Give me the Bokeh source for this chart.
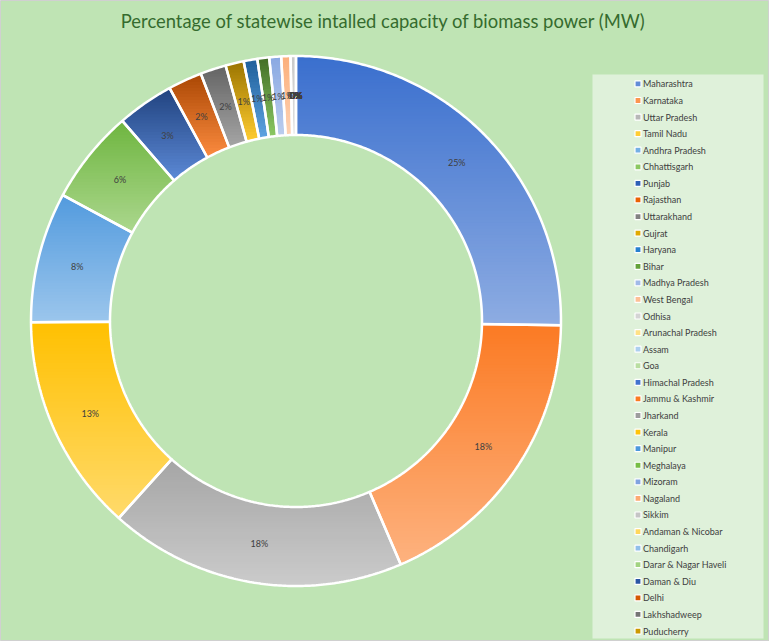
import math
import colorsys

from bokeh.plotting import figure
from bokeh.models import Range1d, ColumnDataSource, Label, BoxAnnotation
from bokeh.core.properties import value
from bokeh.embed import file_html
from bokeh.resources import INLINE

# ---------------------------------------------------------------- data
states = [
    "Maharashtra", "Karnataka", "Uttar Pradesh", "Tamil Nadu", "Andhra Pradesh",
    "Chhattisgarh", "Punjab", "Rajasthan", "Uttarakhand", "Gujrat", "Haryana",
    "Bihar", "Madhya Pradesh", "West Bengal", "Odhisa", "Arunachal Pradesh",
    "Assam", "Goa", "Himachal Pradesh", "Jammu & Kashmir", "Jharkand", "Kerala",
    "Manipur", "Meghalaya", "Mizoram", "Nagaland", "Sikkim", "Andaman & Nicobar",
    "Chandigarh", "Darar & Nagar Haveli", "Daman & Diu", "Delhi", "Lakhshadweep",
    "Puducherry",
]
capacity_mw = [
    2065, 1494, 1482, 1085, 650,
    470, 283, 169, 128, 91, 68,
    59, 59, 46, 27, 0,
    0, 0, 0, 0, 0, 0,
    0, 0, 0, 0, 0, 0,
    0, 0, 0, 0, 0,
    0,
]
chart_title = "Percentage of statewise intalled capacity of biomass power (MW)"

# ---------------------------------------------------------------- styling
BG = "#BFE4B4"
LEGEND_BG = "#DFF1DA"
TEXT = "#404040"
FONT = "Lato"
R_OUT, R_IN = 265.0, 186.0
R_LABEL = (R_OUT + R_IN) / 2
ACCENTS = ["#4472C4", "#ED7D31", "#A5A5A5", "#FFC000", "#5B9BD5", "#70AD47"]
# luminance modifiers used for the 2nd, 3rd ... round of accent colours
LUM_STEPS = [(1.0, 0.0), (0.6, 0.0), (0.6, 0.4), (0.8, 0.0), (0.8, 0.2), (0.5, 0.0)]


def hex_to_rgb(h):
    h = h.lstrip("#")
    return tuple(int(h[i:i + 2], 16) / 255 for i in (0, 2, 4))


def rgb_to_hex(rgb):
    return "#%02X%02X%02X" % tuple(max(0, min(255, int(round(c * 255)))) for c in rgb)


def series_color(i):
    base = ACCENTS[i % 6]
    mod, off = LUM_STEPS[(i // 6) % len(LUM_STEPS)]
    h, l, s = colorsys.rgb_to_hls(*hex_to_rgb(base))
    return rgb_to_hex(colorsys.hls_to_rgb(h, min(1, l * mod + off), s))


def tint(color, amount, sat=1.15):
    h, l, s = colorsys.rgb_to_hls(*hex_to_rgb(color))
    return rgb_to_hex(colorsys.hls_to_rgb(h, l + (1 - l) * amount, min(1.0, s * sat)))


def lerp_color(c0, c1, t):
    a, b = hex_to_rgb(c0), hex_to_rgb(c1)
    return rgb_to_hex(tuple(x + (y - x) * t for x, y in zip(a, b)))


def ring_polygon(t0, t1):
    """Annular sector between clockwise-from-top angles t0..t1 (degrees)."""
    n = max(3, int(math.ceil((t1 - t0) * 2)) + 1)
    outer = [(R_OUT * math.sin(math.radians(t0 + (t1 - t0) * k / (n - 1))),
              R_OUT * math.cos(math.radians(t0 + (t1 - t0) * k / (n - 1)))) for k in range(n)]
    inner = [(R_IN * math.sin(math.radians(t1 - (t1 - t0) * k / (n - 1))),
              R_IN * math.cos(math.radians(t1 - (t1 - t0) * k / (n - 1)))) for k in range(n)]
    return outer + inner


def clip_half(pts, y_cut, keep_above):
    out = []
    def inside(p):
        return p[1] >= y_cut if keep_above else p[1] <= y_cut
    def cross(p, q):
        t = (y_cut - p[1]) / (q[1] - p[1])
        return (p[0] + (q[0] - p[0]) * t, y_cut)
    for i in range(len(pts)):
        cur, prev = pts[i], pts[i - 1]
        if inside(cur):
            if not inside(prev):
                out.append(cross(prev, cur))
            out.append(cur)
        elif inside(prev):
            out.append(cross(prev, cur))
    return out


# ---------------------------------------------------------------- geometry from data
total = float(sum(capacity_mw))
angles, starts = [], []
acc = 0.0
for v in capacity_mw:
    starts.append(acc)
    acc += v / total * 360.0
    angles.append(acc)

colors = [series_color(i) for i in range(len(states))]

band_xs, band_ys, band_fill = [], [], []
edge_xs, edge_ys = [], []
BAND = 3.0
for i, v in enumerate(capacity_mw):
    if v <= 0:
        continue
    poly = ring_polygon(starts[i], angles[i])
    edge_xs.append([p[0] for p in poly])
    edge_ys.append([p[1] for p in poly])
    ys = [p[1] for p in poly]
    top, bot = max(ys), min(ys)
    c_top, c_bot = tint(colors[i], 0.0), tint(colors[i], 0.42)
    nb = max(1, int(math.ceil((top - bot) / BAND)))
    h = (top - bot) / nb
    for b in range(nb):
        yhi = top - b * h + 0.7
        ylo = top - (b + 1) * h - 0.7
        piece = clip_half(clip_half(poly, ylo, True), yhi, False)
        if len(piece) < 3:
            continue
        band_xs.append([p[0] for p in piece])
        band_ys.append([p[1] for p in piece])
        band_fill.append(lerp_color(c_top, c_bot, (b + 0.5) / nb))

pct_text, lab_x, lab_y = [], [], []
for i, v in enumerate(capacity_mw):
    pct = v / total * 100
    pct_text.append("%d%%" % int(math.floor(pct + 0.5)))
    mid = math.radians((starts[i] + angles[i]) / 2)
    lab_x.append(R_LABEL * math.sin(mid))
    lab_y.append(R_LABEL * math.cos(mid))

# ---------------------------------------------------------------- figure
W, H = 769, 641
CX, CY = 295.5, 320.5  # ring centre, in pixels from the top-left corner
p = figure(
    width=W, height=H, output_backend="svg", toolbar_location=None,
    x_range=Range1d(-CX, W - CX), y_range=Range1d(CY - H, CY),
    x_axis_type=None, y_axis_type=None, min_border=0,
    background_fill_color=BG, border_fill_color=BG,
    outline_line_color="#D0D0D0", outline_line_width=1,
)
p.grid.visible = False

# legend rows are laid out on their own index scale
ROW0, ROW_STEP = 83.4, 16.58
p.extra_y_ranges = {"legend": Range1d(start=(H - ROW0) / ROW_STEP, end=-ROW0 / ROW_STEP)}

# gradient-filled ring sectors
bands = ColumnDataSource(dict(xs=band_xs, ys=band_ys, fill=band_fill))
p.patches(xs="xs", ys="ys", fill_color="fill", line_color=None, source=bands)
# white separators around every sector
p.patches(xs=edge_xs, ys=edge_ys, fill_alpha=0, line_color="white", line_width=2.5)

# percentage labels
p.text(x=lab_x, y=lab_y, text=pct_text, text_align="center", text_baseline="middle",
       text_font=value(FONT), text_font_size="9px", text_color=TEXT)

# title
p.add_layout(Label(x=383 - CX, y=CY - 20, text=chart_title, text_align="center",
                   text_baseline="middle", text_font=FONT, text_font_size="18.4px",
                   text_color="#356B2E"))

# legend panel
p.add_layout(BoxAnnotation(left=592 - CX, right=763 - CX, top=CY - 74, bottom=CY - 638,
                           fill_color=LEGEND_BG, fill_alpha=1, line_color=None,
                           level="underlay"))
rows = list(range(len(states)))
swatch = [tint(c, 0.2) for c in colors]
p.rect(x=[637.5 - CX] * len(rows), y=rows, width=6, height=6, width_units="screen",
       height_units="screen", fill_color=swatch, line_color="white", line_width=1.2,
       y_range_name="legend")
p.text(x=[642.5 - CX] * len(rows), y=rows, text=states, text_align="left",
       text_baseline="middle", text_font=value(FONT), text_font_size="9px",
       text_color=TEXT, y_range_name="legend")

open("out.html", "w").write(file_html(p, INLINE))
